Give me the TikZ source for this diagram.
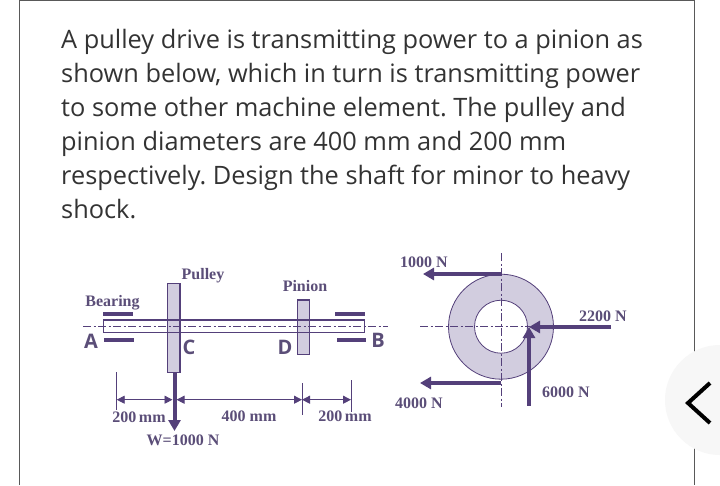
\documentclass[tikz,border=0pt]{standalone}
\usepackage{fontspec}
\setmainfont{Liberation Serif}
\newfontfamily\bodyfont{Open Sans}
\newfontfamily\letterfont{Open Sans}
\usetikzlibrary{arrows.meta,calc}
\definecolor{ink}{HTML}{54407A}
\definecolor{lab}{HTML}{5B4E78}
\definecolor{disc}{HTML}{D2CDDF}
\definecolor{bodyc}{HTML}{333333}
\frenchspacing
\tikzset{
  x=1pt,y=-1pt,
  para/.style={anchor=base west,inner sep=0pt,font=\bodyfont\fontsize{25.35}{30}\selectfont,text=bodyc},
  lbl/.style={inner sep=0pt,font=\bfseries\fontsize{16}{18}\selectfont,text=lab},
  letter/.style={inner sep=0pt,font=\letterfont\bfseries\fontsize{20}{22}\selectfont,text=lab},
  frame/.style={draw=black!65,line width=1pt},
  center/.style={draw=ink,line width=0.8pt,dash pattern=on 8pt off 2.5pt on 2pt off 2.5pt},
  part/.style={draw=ink,fill=disc,line width=1.2pt},
  bearing/.style={fill=ink,draw=none},
  force/.style={draw=ink,line width=4pt,-{Triangle[length=11pt,width=12pt]}},
  dim/.style={draw=ink,line width=0.9pt,{Triangle[length=8pt,width=8pt]}-{Triangle[length=8pt,width=8pt]}},
  tick/.style={draw=ink,line width=0.9pt}
}
\begin{document}
\begin{tikzpicture}
\useasboundingbox (0,0) rectangle (720,485);
\fill[white] (0,0) rectangle (720,485);
% page frame
\coordinate (fTR) at (694.5,0.5); \coordinate (fTL) at (19.5,0.5);
\draw[frame] (19.5,485) -- (fTL) -- (fTR) -- (694.5,485);
\fill[black!3] (720,400) circle (55);
\coordinate (c1) at (710,383); \coordinate (c2) at (688,403); \coordinate (c3) at (710,423);
\draw[black,line width=4pt] (c1) -- (c2) -- (c3);
% paragraph
\node[para] (t1) at (61,48) {A pulley drive is transmitting power to a pinion as};
\node[para] (t2) at (61,82) {shown below, which in turn is transmitting power};
\node[para] (t3) at (61,116) {to some other machine element. The pulley and};
\node[para] (t4) at (61,150) {pinion diameters are 400 mm and 200 mm};
\node[para] (t5) at (61,184) {respectively. Design the shaft for minor to heavy};
\node[para] (t6) at (61,218) {shock.};
% parts
\fill[bearing] (103,312.3) rectangle (133,316.3);
\fill[bearing] (104,338) rectangle (133.5,342);
\fill[bearing] (335,312.3) rectangle (364.5,316.3);
\fill[bearing] (336.5,338) rectangle (366,342);
\draw[part] (167.8,283.5) rectangle (180,372.3);
\draw[part] (297.4,300) rectangle (309.4,354.3);
% shaft
\draw[draw=ink,line width=1.3pt] (103.5,320) rectangle (364.5,332.7);
\coordinate (cL) at (83,326.5); \coordinate (cR) at (388,326.5);
\draw[center] (cL) -- (cR);
% weight
\coordinate (wS) at (174.5,372); \coordinate (wE) at (174.5,431);
\draw[force] (wS) -- (wE);
% dimensions
\coordinate (d0) at (116.7,372); \coordinate (d0b) at (116.7,410);
\coordinate (d1) at (302,383); \coordinate (d1b) at (302,415);
\coordinate (d2) at (351,380); \coordinate (d2b) at (351,412);
\draw[tick] (d0) -- (d0b); \draw[tick] (d1) -- (d1b); \draw[tick] (d2) -- (d2b);
\coordinate (a0) at (116.7,399.7); \coordinate (a1) at (172.5,399.7);
\coordinate (a2) at (176.5,399.7); \coordinate (a3) at (302,399.7); \coordinate (a4) at (351,399.7);
\draw[dim] (a0) -- (a1); \draw[dim] (a2) -- (a3); \draw[dim] (a3) -- (a4);
% left labels
\node[lbl] (pulley) at (203,276) {Pulley};
\node[lbl] (pinion) at (305,286) {Pinion};
\node[lbl] (bearingl) at (112.5,303) {Bearing};
\node[letter] (A) at (91,341) {A};
\node[letter] (B) at (378,340) {B};
\node[letter] (C) at (189,347) {C};
\node[letter] (D) at (285,347) {D};
\node[lbl] (m1) at (139,417) {200\,mm};
\node[lbl] (m2) at (249,416) {400 mm};
\node[lbl] (m3) at (345,416) {200\,mm};
\node[lbl] (W) at (183,440) {W=1000 N};
% right figure
\draw[ink,line width=0.8pt,fill=disc] (501,326.7) circle (52.5);
\draw[ink,line width=0.8pt,fill=white] (501,326.7) circle (26.5);
\coordinate (vT) at (501,253); \coordinate (vB) at (501,407);
\coordinate (hL) at (420,326.7); \coordinate (hR) at (530,326.7);
\draw[center] (vT) -- (vB);
\draw[center] (hL) -- (hR);
\coordinate (f1s) at (501,274); \coordinate (f1e) at (423,274);
\coordinate (f2s) at (501,383); \coordinate (f2e) at (420,383);
\coordinate (f3s) at (611,327); \coordinate (f3e) at (529,327);
\coordinate (f4s) at (529,405.5); \coordinate (f4e) at (529,327);
\draw[force] (f1s) -- (f1e);
\draw[force] (f2s) -- (f2e);
\draw[force] (f3s) -- (f3e);
\draw[force] (f4s) -- (f4e);
\node[lbl] (l1) at (424,262) {1000 N};
\node[lbl] (l2) at (603,316) {2200 N};
\node[lbl] (l3) at (566,392) {6000 N};
\node[lbl] (l4) at (419,403) {4000 N};
\end{tikzpicture}
\end{document}
